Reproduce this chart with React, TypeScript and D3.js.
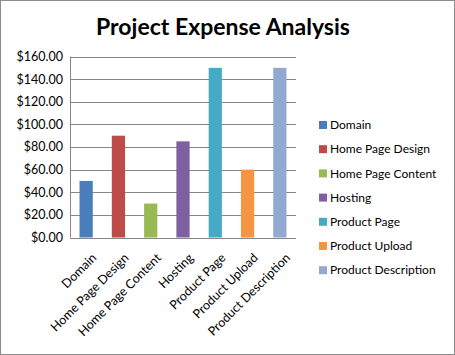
import { useEffect, useRef } from "react";
import * as d3 from "d3";

const categories = [
  "Domain",
  "Home Page Design",
  "Home Page Content",
  "Hosting",
  "Product Page",
  "Product Upload",
  "Product Description",
];
const expenses = [50, 90, 30, 85, 150, 60, 150];
const colors = ["#4a7ebb", "#be4b48", "#98b954", "#7d60a0", "#46aac5", "#f59443", "#93a9d1"];
const yTicks = [0, 20, 40, 60, 80, 100, 120, 140, 160];

const W = 455;
const H = 355;
const FONT = "Lato, 'Open Sans', sans-serif";

export default function App(): JSX.Element {
  const ref = useRef<SVGSVGElement | null>(null);

  useEffect(() => {
    if (!ref.current) return;
    const svg = d3.select(ref.current);
    svg.selectAll("*").remove();

    const plot = { left: 70, right: 296, top: 56.5, bottom: 237.5 };
    const x = d3.scaleBand<string>().domain(categories).range([plot.left, plot.right]).paddingInner(0.59).paddingOuter(0.295);
    const y = d3.scaleLinear().domain([0, 160]).range([plot.bottom, plot.top]);

    svg.append("rect").attr("x", 0.5).attr("y", 0.5).attr("width", W - 1).attr("height", H - 1)
      .attr("fill", "#fff").attr("stroke", "#8c8c8c");

    svg.append("text").attr("x", 223).attr("y", 35).attr("text-anchor", "middle")
      .attr("font-family", FONT).attr("font-weight", "bold").attr("font-size", 23)
      .attr("fill", "#000").text("Project Expense Analysis");

    // gridlines
    svg.append("g").selectAll("line").data(yTicks.filter((t) => t > 0)).join("line")
      .attr("x1", plot.left).attr("x2", plot.right)
      .attr("y1", (d) => Math.round(y(d)) + 0.5).attr("y2", (d) => Math.round(y(d)) + 0.5)
      .attr("stroke", "#868686");

    // bars
    svg.append("g").selectAll("rect").data(categories).join("rect")
      .attr("x", (d) => x(d) ?? 0)
      .attr("width", x.bandwidth())
      .attr("y", (_, i) => y(expenses[i]))
      .attr("height", (_, i) => y(0) - y(expenses[i]))
      .attr("fill", (_, i) => colors[i]);

    // axes lines
    svg.append("line").attr("x1", plot.left + 0.5).attr("x2", plot.left + 0.5)
      .attr("y1", plot.top).attr("y2", plot.bottom).attr("stroke", "#868686");
    svg.append("line").attr("x1", plot.left).attr("x2", plot.right)
      .attr("y1", Math.round(y(0)) + 0.5).attr("y2", Math.round(y(0)) + 0.5).attr("stroke", "#868686");

    // y labels
    svg.append("g").selectAll("text").data(yTicks).join("text")
      .attr("x", 63).attr("y", (d) => y(d)).attr("dy", "0.35em").attr("text-anchor", "end")
      .attr("font-family", FONT).attr("font-size", 12.5).attr("fill", "#000")
      .text((d) => `$${d.toFixed(2)}`);

    // x labels
    svg.append("g").selectAll("text").data(categories).join("text")
      .attr("transform", (d) => `translate(${(x(d) ?? 0) + x.bandwidth() / 2 + 8},${plot.bottom + 18}) rotate(-45)`)
      .attr("text-anchor", "end").attr("dy", "0.35em")
      .attr("font-family", FONT).attr("font-size", 12.5).attr("fill", "#000")
      .text((d) => d);

    // legend
    const lg = svg.append("g").selectAll("g").data(categories).join("g")
      .attr("transform", (_, i) => `translate(319,${125 + i * 24.2})`);
    lg.append("rect").attr("x", 0).attr("y", -4).attr("width", 8).attr("height", 8)
      .attr("fill", (_, i) => colors[i]);
    lg.append("text").attr("x", 11).attr("y", 0).attr("dy", "0.35em")
      .attr("font-family", FONT).attr("font-size", 12).attr("fill", "#000")
      .text((d) => d);
  }, []);

  return (
    <svg ref={ref} width={W} height={H} style={{ position: "absolute", left: 0, top: 0 }} />
  );
}
